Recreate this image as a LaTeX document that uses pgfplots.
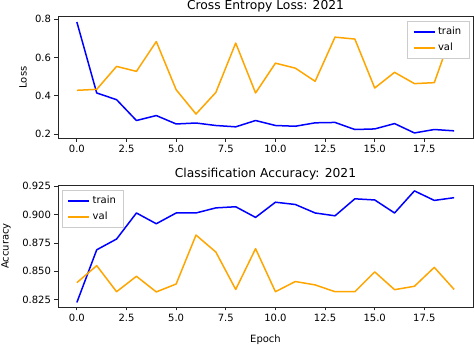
\documentclass[border=0pt]{standalone}
\usepackage{pgfplots}
\pgfplotsset{compat=1.18}
\usepackage{fontspec}
\setmainfont{DejaVu Sans}
\definecolor{mplorange}{HTML}{FFA500}
\definecolor{mplblue}{HTML}{0000FF}
\definecolor{spine}{HTML}{262626}
\definecolor{legframe}{HTML}{CCCCCC}

\pgfplotstableread{
ep trainloss valloss trainacc valacc
0 0.785 0.428 0.8225 0.840
1 0.414 0.433 0.869 0.855
2 0.379 0.553 0.8785 0.832
3 0.270 0.527 0.9015 0.8456
4 0.296 0.683 0.892 0.8318
5 0.252 0.431 0.9015 0.8388
6 0.257 0.304 0.9015 0.882
7 0.244 0.417 0.906 0.867
8 0.237 0.675 0.907 0.834
9 0.270 0.414 0.8976 0.870
10 0.244 0.570 0.911 0.832
11 0.240 0.544 0.909 0.841
12 0.258 0.475 0.9015 0.838
13 0.260 0.706 0.899 0.832
14 0.223 0.696 0.914 0.832
15 0.226 0.440 0.913 0.8495
16 0.254 0.522 0.9015 0.8338
17 0.205 0.463 0.921 0.8368
18 0.223 0.468 0.9126 0.8535
19 0.216 0.760 0.915 0.834
}\datatable

\pgfplotsset{
  mystyle/.style={
    scale only axis, width=415pt, height=122pt,
    xmin=-0.95, xmax=19.95,
    xtick={0,2.5,5,7.5,10,12.5,15,17.5},
    xticklabel style={/pgf/number format/.cd, fixed, fixed zerofill, precision=1},
    tick align=outside, xtick pos=left, ytick pos=left,
    major tick length=3.5pt,
    every tick/.style={spine, line width=0.8pt},
    axis line style={spine, line width=0.8pt},
    /pgf/number format/assume math mode=true,
    title style={font=\fontsize{12.3}{14}\selectfont, yshift=-5pt},
    legend cell align=left,
    legend image code/.code={\draw[#1, line width=2pt] (0pt,0pt) -- (21pt,0pt);},
    legend style={draw=legframe, fill=white, inner xsep=5pt, inner ysep=3.5pt, row sep=2pt, nodes={inner sep=2.5pt}},
  },
  trainline/.style={draw=mplblue, line width=1.5pt, line join=round},
  valline/.style={draw=mplorange, line width=1.5pt, line join=round},
}

\begin{document}
\fontsize{10}{12}\selectfont
\begin{tikzpicture}
\useasboundingbox (0,0) rectangle (474pt,345pt);
\begin{axis}[mystyle,
  at={(58pt,206.5pt)}, anchor=south west,
  ymin=0.176, ymax=0.814,
  ytick={0.2,0.4,0.6,0.8},
  yticklabel style={/pgf/number format/.cd, fixed, fixed zerofill, precision=1},
  title={Cross Entropy Loss: 2021},
  ylabel={Loss},
  ylabel style={at={(rel axis cs:-0.0843,0.5)}, anchor=center},
  legend style={at={(rel axis cs:1,1)}, anchor=north east, xshift=-4pt, yshift=-4.5pt},
]
\addplot[trainline] table[x=ep, y=trainloss] {\datatable};
\addplot[valline] table[x=ep, y=valloss] {\datatable};
\legend{train, val}
\end{axis}
\begin{axis}[mystyle,
  at={(58pt,38pt)}, anchor=south west,
  ymin=0.8185, ymax=0.9262,
  ytick={0.825,0.85,0.875,0.9,0.925},
  yticklabel style={/pgf/number format/.cd, fixed, fixed zerofill, precision=3},
  title={Classification Accuracy: 2021},
  xlabel={Epoch},
  xlabel style={yshift=-6pt},
  ylabel={Accuracy},
  ylabel style={at={(rel axis cs:-0.125,0.5)}, anchor=center},
  legend style={at={(rel axis cs:0,1)}, anchor=north west, xshift=4pt, yshift=-5pt},
]
\addplot[trainline] table[x=ep, y=trainacc] {\datatable};
\addplot[valline] table[x=ep, y=valacc] {\datatable};
\legend{train, val}
\end{axis}
\end{tikzpicture}
\end{document}
